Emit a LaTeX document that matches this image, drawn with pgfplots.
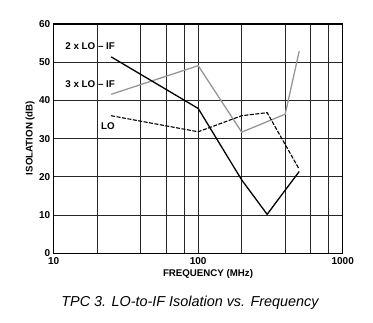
\documentclass[border=0pt]{standalone}
\usepackage{pgfplots}
\pgfplotsset{compat=1.18}
\usepackage{fontspec}
\setmainfont{Liberation Sans}
\definecolor{lgray}{RGB}{150,150,150}
\begin{document}
\begin{tikzpicture}
\path[use as bounding box] (0,0) rectangle (373pt,-323pt);
\begin{axis}[
  at={(53.7pt,-253.3pt)}, anchor=south west,
  scale only axis, width=289pt, height=229.3pt,
  xmode=log, xmin=10, xmax=1000, ymin=0, ymax=60,
  xtick={10,100,1000}, xticklabels={10,100,1000},
  minor xtick={20,40,60,80,200,400,600,800},
  ytick={0,10,20,30,40,50,60},
  grid=both,
  major grid style={black!85, line width=0.9pt},
  minor grid style={black!85, line width=0.9pt},
  major tick length=0pt, minor tick length=0pt,
  axis line style={black, line width=1.1pt},
  /pgf/number format/assume math mode=true,
  ticklabel style={font=\bfseries\fontsize{10}{11}\selectfont},
  xticklabel style={yshift=-0.5pt},
  yticklabel style={xshift=0pt},
  xlabel={FREQUENCY (MHz)},
  xlabel style={font=\bfseries\fontsize{9.7}{10}\selectfont, at={(axis description cs:0.534,-0.0916)}, anchor=center},
  ylabel={ISOLATION (dB)},
  ylabel style={font=\bfseries\fontsize{9.7}{10}\selectfont, at={(axis description cs:-0.082,0.503)}, anchor=center, rotate=0},
  clip=false,
]
\addplot[lgray, line width=1.3pt] coordinates {(25,41.6) (100,49.1) (200,31.7) (400,36.4) (500,52.9)};
\addplot[black, line width=1.1pt, dash pattern=on 4pt off 1.5pt] coordinates {(25,36.0) (100,31.8) (200,36.0) (300,36.8) (500,22.0)};
\addplot[black, line width=1.3pt] coordinates {(25,51.4) (100,37.9) (200,19.2) (300,10.2) (500,21.4)};
\node[font=\bfseries\fontsize{9.8}{10}\selectfont, anchor=west, inner sep=0pt] at (axis cs:12.0,54.1) {2 x LO – IF};
\node[font=\bfseries\fontsize{9.8}{10}\selectfont, anchor=west, inner sep=0pt] at (axis cs:12.0,44.2) {3 x LO – IF};
\node[font=\bfseries\fontsize{9.8}{10}\selectfont, anchor=west, inner sep=0pt] at (axis cs:21.2,33.3) {LO};
\end{axis}
\node[font=\itshape\fontsize{14.4}{16}\selectfont, anchor=center] at (190pt,-302.7pt) {TPC 3. LO-to-IF Isolation vs. Frequency};
\end{tikzpicture}
\end{document}
